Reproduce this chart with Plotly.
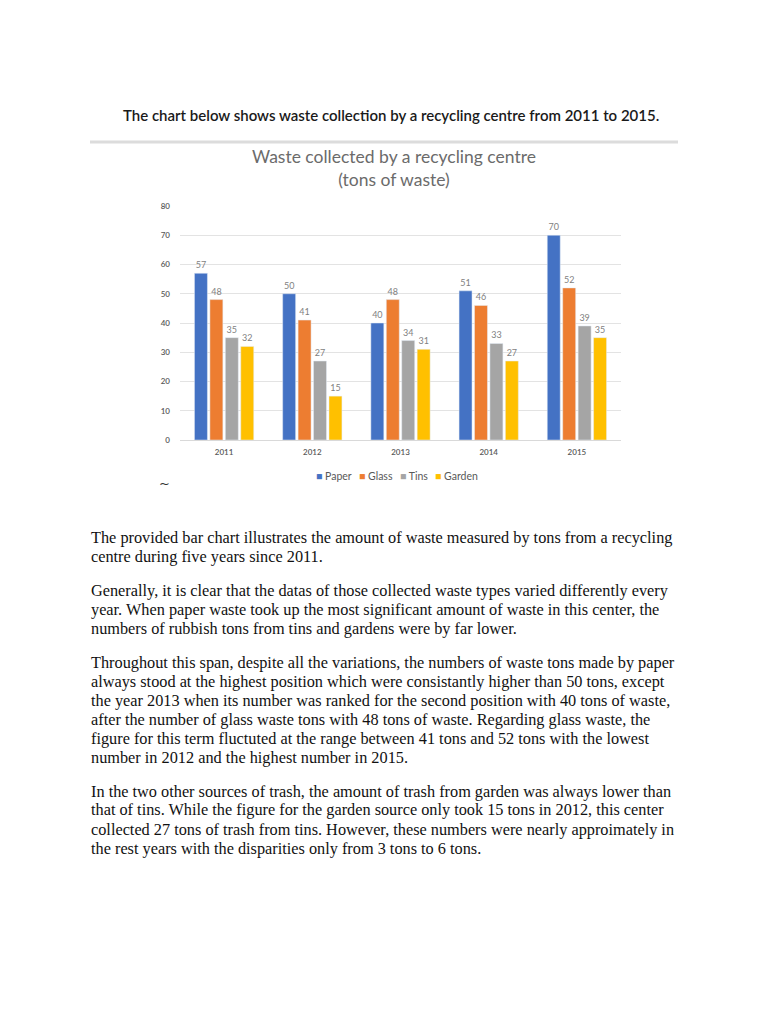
import plotly.graph_objects as go

years = ['2011', '2012', '2013', '2014', '2015']
paper = [57, 50, 40, 51, 70]
glass = [48, 41, 48, 46, 52]
tins = [35, 27, 34, 33, 39]
garden = [32, 15, 31, 27, 35]

series = [('Paper', paper, '#4472C4'), ('Glass', glass, '#ED7D31'),
          ('Tins', tins, '#A5A5A5'), ('Garden', garden, '#FFC000')]

paragraphs = [
    ['The provided bar chart illustrates the amount of waste measured by tons from a recycling',
     'centre during five years since 2011.'],
    ['Generally, it is clear that the datas of those collected waste types varied differently every',
     'year. When paper waste took up the most significant amount of waste in this center, the',
     'numbers of rubbish tons from tins and gardens were by far lower.'],
    ['Throughout this span, despite all the variations, the numbers of waste tons made by paper',
     'always stood at the highest position which were consistantly higher than 50 tons, except',
     'the year 2013 when its number was ranked for the second position with 40 tons of waste,',
     'after the number of glass waste tons with 48 tons of waste. Regarding glass waste, the',
     'figure for this term fluctuted at the range between 41 tons and 52 tons with the lowest',
     'number in 2012 and the highest number in 2015.'],
    ['In the two other sources of trash, the amount of trash from garden was always lower than',
     'that of tins. While the figure for the garden source only took 15 tons in 2012, this center',
     'collected 27 tons of trash from tins. However, these numbers were nearly approimately in',
     'the rest years with the disparities only from 3 tons to 6 tons.'],
]

OFF = 8  # page body margin
W, H = 760, 1016
L, R, T, B = 180, 621, 206, 440  # plot area in page pixels


def px(x):
    return (x - L) / (R - L)


def py(y):
    return (B - y) / (B - T)


fig = go.Figure()
for name, vals, col in series:
    fig.add_trace(go.Bar(
        x=years, y=vals, name=name, marker_color=col,
        text=vals, textposition='outside', cliponaxis=False,
        textfont=dict(size=9, color='#7f7f7f'),
    ))

ann = []
ann.append(dict(x=px(391), y=py(115), text='The chart below shows waste collection by a recycling centre from 2011 to 2015.',
                font=dict(family='Lato', size=15, color='#1a1a1a', weight=600), showarrow=False,
                xref='paper', yref='paper', xanchor='center', yanchor='middle'))
ann.append(dict(x=px(394), y=py(168),
                text='Waste collected by a recycling centre<br>(tons of waste)',
                font=dict(family='Lato', size=17.5, color='#6b6b6b'), showarrow=False,
                xref='paper', yref='paper', xanchor='center', yanchor='middle'))
ann.append(dict(x=px(164), y=py(483), text='~', font=dict(family='DejaVu Sans', size=13, color='#333'),
                showarrow=False, xref='paper', yref='paper', xanchor='center', yanchor='middle'))

# legend entries drawn as text
leg_x = [314, 357, 398, 433]
for (name, vals, col), lx in zip(series, leg_x):
    ann.append(dict(x=px(lx), y=py(476),
                    text=f'<span style="color:{col}">■</span> {name}',
                    font=dict(family='Lato', size=10.5, color='#595959'), showarrow=False,
                    xref='paper', yref='paper', xanchor='left', yanchor='middle'))

y0 = 537
for para in paragraphs:
    for line in para:
        ann.append(dict(x=px(89), y=py(y0), text=line,
                        font=dict(family='Liberation Serif', size=16.3, color='#111'),
                        showarrow=False, xref='paper', yref='paper',
                        xanchor='left', yanchor='middle'))
        y0 += 19
    y0 += 15

fig.update_layout(
    width=W, height=H,
    margin=dict(l=L - OFF, r=W - (R - OFF), t=T - OFF, b=H - (B - OFF), pad=0),
    paper_bgcolor='white', plot_bgcolor='white',
    barmode='group', bargap=0.30, bargroupgap=0.16,
    font=dict(family='Lato', color='#595959'),
    showlegend=False,
    annotations=ann,
    shapes=[dict(type='rect', xref='paper', yref='paper', x0=px(90), x1=px(678),
                 y0=py(143.5), y1=py(140.5), fillcolor='#dcdcdc', line=dict(width=0))],
)
fig.update_yaxes(range=[0, 80], dtick=10, showgrid=True, gridcolor='#e3e3e3', gridwidth=1,
                 zeroline=False, showline=False,
                 tickfont=dict(size=8, color='#595959', weight=600),
                 ticklabelstandoff=9)
fig.update_xaxes(showline=True, linecolor='#d9d9d9',
                 tickfont=dict(size=8, color='#595959', weight=600),
                 ticks='', ticklabelstandoff=4)

fig.write_html('out.html')
